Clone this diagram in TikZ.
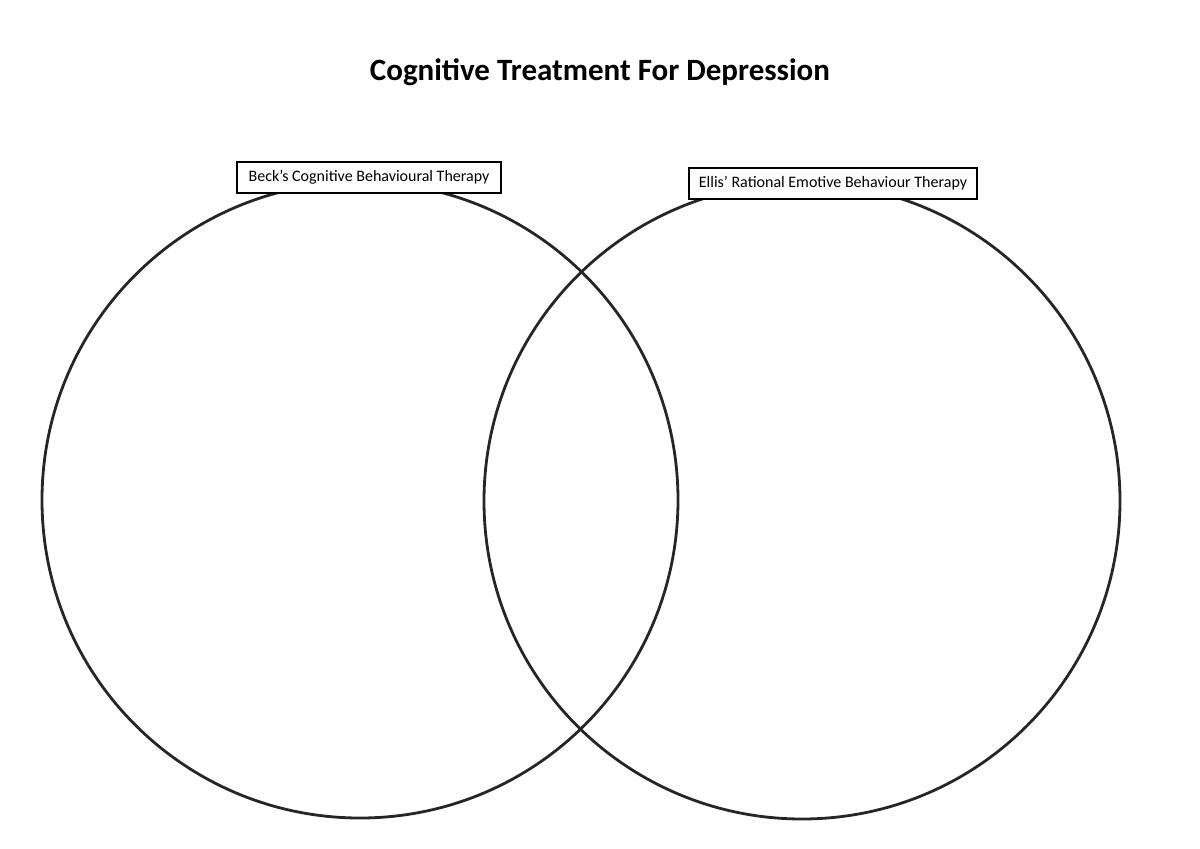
\documentclass[tikz,border=0pt]{standalone}
\usepackage{fontspec}
\setmainfont{Carlito}
\usetikzlibrary{positioning}
\begin{document}
\begin{tikzpicture}[x=1pt,y=-1pt,
  ring/.style={draw=black!85,line width=2.8pt},
  tag/.style={draw,fill=white,line width=1.6pt,font=\fontsize{16}{19}\selectfont,inner xsep=8pt,minimum height=31pt}]
\useasboundingbox (0,0) rectangle (1200,849);
\node (title) at (600,72) {\fontsize{31}{36}\selectfont\bfseries Cognitive Treatment For Depression};
\node[ring,circle,minimum size=636pt] (beck) at (360,500) {};
\node[ring,circle,minimum size=636pt] (ellis) at (802,501) {};
\node[tag,minimum width=264pt] (becktag) at (369,177.5) {Beck’s Cognitive Behavioural Therapy};
\node[tag,minimum width=288pt] (ellistag) at (833,183.5) {Ellis’ Rational Emotive Behaviour Therapy};
\end{tikzpicture}
\end{document}
